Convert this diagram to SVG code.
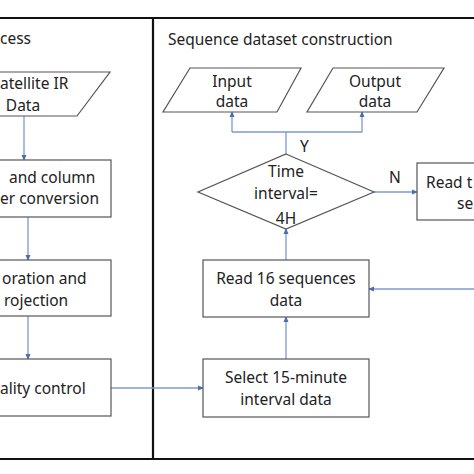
<svg xmlns="http://www.w3.org/2000/svg" width="474" height="474" viewBox="0 0 474 474">
<defs>
<marker id="ah" markerWidth="6" markerHeight="6" refX="5" refY="3" orient="auto" markerUnits="userSpaceOnUse">
<path d="M0,0.5 L6,3 L0,5.5 Z" fill="#4a6fb0"/>
</marker>
</defs>
<style>
.n{fill:#fff;stroke:#555;stroke-width:1.2}
.t{font-family:"Noto Sans","Liberation Sans",sans-serif;font-size:15.5px;fill:#222}
.m{text-anchor:middle}
.c{fill:none;stroke:#7e9ace;stroke-width:1.3}
.f{stroke:#111;stroke-width:2.2;fill:none}
</style>
<rect x="0" y="0" width="474" height="474" fill="#fff"/>
<g id="frame">
<line class="f" x1="0" y1="18" x2="474" y2="18"/>
<line class="f" x1="0" y1="459" x2="474" y2="459"/>
<line class="f" x1="153" y1="18" x2="153" y2="459"/>
<text class="t" x="0" y="44">cess</text>
<text class="t" x="168" y="45">Sequence dataset construction</text>
</g>
<g id="connectors">
<line class="c" x1="24" y1="116" x2="24" y2="160" marker-end="url(#ah)"/>
<line class="c" x1="28" y1="217" x2="28" y2="260" marker-end="url(#ah)"/>
<line class="c" x1="28" y1="316" x2="28" y2="359" marker-end="url(#ah)"/>
<line class="c" x1="111" y1="388" x2="203" y2="388" marker-end="url(#ah)"/>
<line class="c" x1="286" y1="359" x2="286" y2="317" marker-end="url(#ah)"/>
<line class="c" x1="286" y1="260" x2="286" y2="229" marker-end="url(#ah)"/>
<line class="c" x1="474" y1="289" x2="369" y2="289" marker-end="url(#ah)"/>
<line class="c" x1="374" y1="192" x2="417" y2="192" marker-end="url(#ah)"/>
<polyline class="c" points="286,154 286,132"/>
<polyline class="c" points="232,132 232,112" marker-end="url(#ah)"/>
<polyline class="c" points="232,132 362,132 362,112" marker-end="url(#ah)"/>
<text class="t" x="300" y="152">Y</text>
<text class="t" x="389" y="183">N</text>
</g>
<g id="satellite">
<polygon class="n" points="-20,72 110,72 77,116 -53,116"/>
<text class="t" x="0" y="89">atellite IR</text>
<text class="t m" x="23" y="111">Data</text>
</g>
<g id="conversion">
<rect class="n" x="-60" y="160" width="171" height="57"/>
<text class="t" x="9" y="183">and column</text>
<text class="t" x="0" y="204">er conversion</text>
</g>
<g id="calibration">
<rect class="n" x="-60" y="260" width="171" height="56"/>
<text class="t" x="2" y="284">oration and</text>
<text class="t" x="4" y="306">rojection</text>
</g>
<g id="quality">
<rect class="n" x="-60" y="359" width="171" height="57"/>
<text class="t" x="0" y="394">ality control</text>
</g>
<g id="input">
<polygon class="n" points="190,68 301,68 277,112 163,112"/>
<text class="t m" x="232" y="87">Input</text>
<text class="t m" x="232" y="107">data</text>
</g>
<g id="output">
<polygon class="n" points="333,68 444,68 417,112 307,112"/>
<text class="t m" x="375" y="87">Output</text>
<text class="t m" x="375" y="107">data</text>
</g>
<g id="decision">
<polygon class="n" points="286,154 374,192 286,229 198,192"/>
<text class="t m" x="286" y="177">Time</text>
<text class="t m" x="286" y="199">interval=</text>
<text class="t m" x="286" y="224">4H</text>
</g>
<g id="readnext">
<rect class="n" x="417" y="163" width="80" height="57"/>
<text class="t" x="426" y="188">Read t</text>
<text class="t" x="457" y="209">se</text>
</g>
<g id="read16">
<rect class="n" x="203" y="260" width="166" height="57"/>
<text class="t m" x="286" y="284">Read 16 sequences</text>
<text class="t m" x="286" y="306">data</text>
</g>
<g id="select">
<rect class="n" x="203" y="359" width="166" height="58"/>
<text class="t m" x="286" y="383">Select 15-minute</text>
<text class="t m" x="286" y="405">interval data</text>
</g>
</svg>
